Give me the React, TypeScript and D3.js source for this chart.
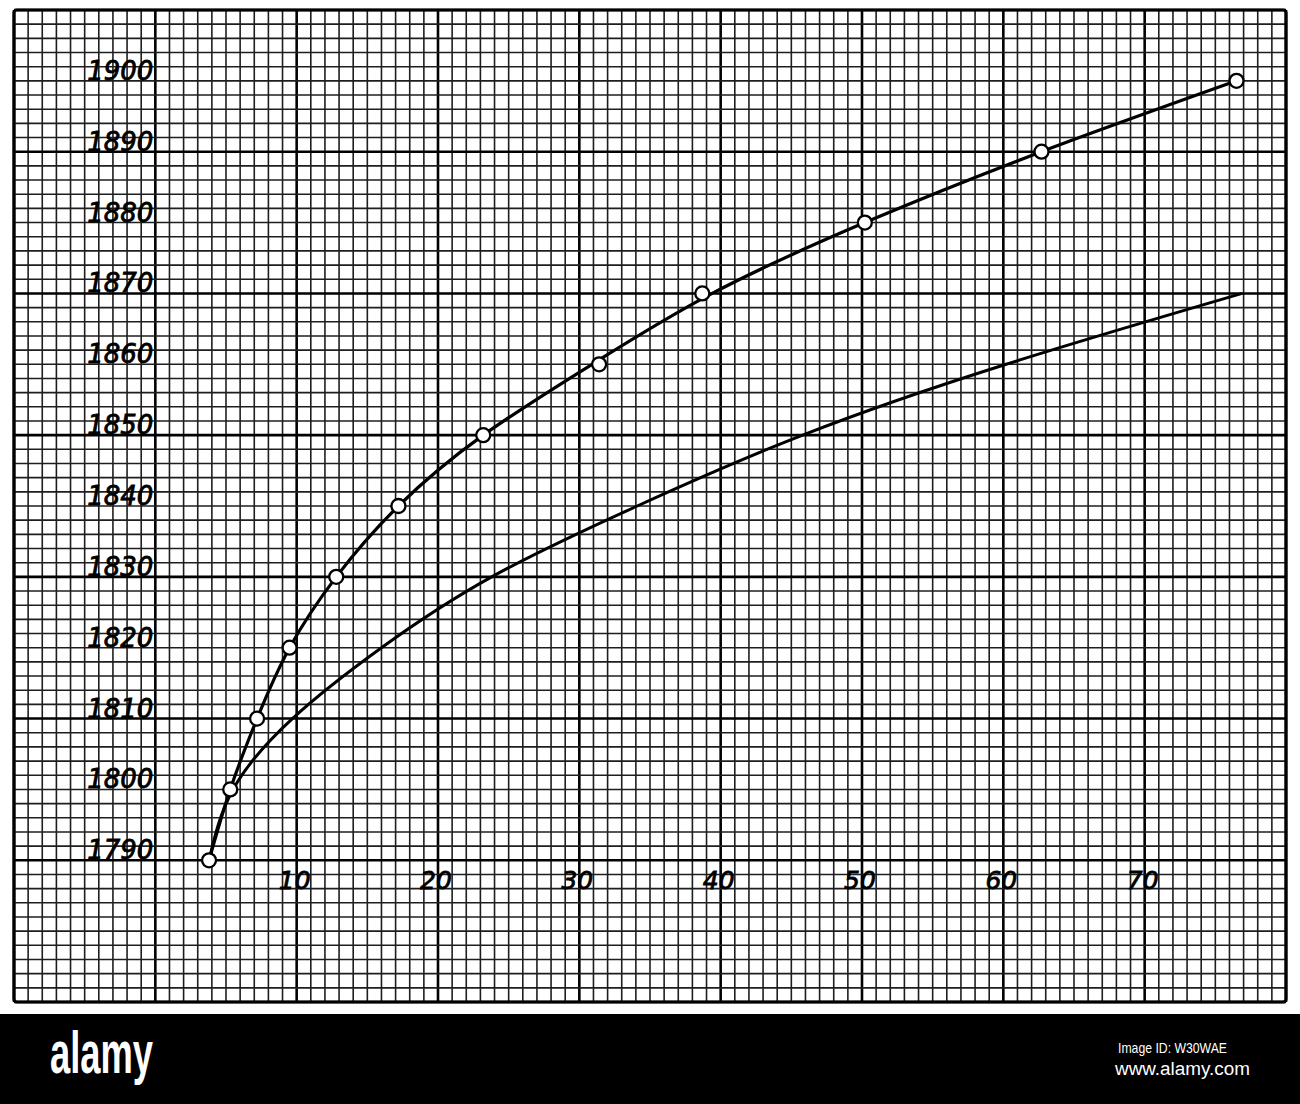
import React, { useEffect, useRef } from "react";
import * as d3 from "d3";

const W = 1300;
const H = 1104;

const censusYears = [1790, 1800, 1810, 1820, 1830, 1840, 1850, 1860, 1870, 1880, 1890, 1900];
const censusPop = [3.8, 5.3, 7.2, 9.5, 12.8, 17.2, 23.2, 31.4, 38.7, 50.2, 62.7, 76.5];

// the hand-drawn curve through those circles (it smooths past 1860/1870)
const upperLinePop = [3.8, 5.3, 7.2, 9.5, 12.8, 17.2, 23.2, 30.9, 39.4, 50.2, 62.7, 76.5];

// the second, lower curve (no markers)
const lowerYears = [1790, 1800, 1810, 1820, 1830, 1840, 1850, 1860, 1870];
const lowerPop = [3.8, 5.5, 9.7, 16.0, 23.8, 34.1, 45.8, 60.2, 76.9];

// tick labels
const yearLabels = [1790, 1800, 1810, 1820, 1830, 1840, 1850, 1860, 1870, 1880, 1890, 1900];
const popLabels = [10, 20, 30, 40, 50, 60, 70];

export default function App() {
  const ref = useRef<SVGSVGElement | null>(null);

  useEffect(() => {
    const svg = d3.select(ref.current);
    svg.selectAll("*").remove();

    const x = d3.scaleLinear().domain([-10, 80]).range([14, 1286]);
    const y = d3.scaleLinear().domain([1770, 1910]).range([1002, 10]);

    svg.append("rect").attr("width", W).attr("height", H).attr("fill", "#fff");

    // graph paper grid
    const grid = svg.append("g");
    const xs = d3.range(-10, 81, 1);
    const ys = d3.range(1770, 1911, 2);

    grid
      .selectAll("line.v")
      .data(xs)
      .join("line")
      .attr("x1", (d) => x(d))
      .attr("x2", (d) => x(d))
      .attr("y1", y(1910))
      .attr("y2", y(1770))
      .attr("stroke", (d) => (d % 10 === 0 ? "#000" : "#1e1e1e"))
      .attr("stroke-width", (d) => (d % 10 === 0 ? 2.6 : 1.6));

    grid
      .selectAll("line.h")
      .data(ys)
      .join("line")
      .attr("y1", (d) => y(d))
      .attr("y2", (d) => y(d))
      .attr("x1", x(-10))
      .attr("x2", x(80))
      .attr("stroke", (d) => ((d - 1770) % 20 === 0 ? "#000" : "#1e1e1e"))
      .attr("stroke-width", (d) => ((d - 1770) % 20 === 0 ? 2.6 : 1.6));

    // outer frame
    svg
      .append("rect")
      .attr("x", x(-10))
      .attr("y", y(1910))
      .attr("width", x(80) - x(-10))
      .attr("height", y(1770) - y(1910))
      .attr("fill", "none")
      .attr("stroke", "#000")
      .attr("stroke-width", 3.2)
      .attr("rx", 3);

    // y labels (years), sitting on their lines
    svg
      .append("g")
      .selectAll("text")
      .data(yearLabels)
      .join("text")
      .attr("x", x(0) - 2)
      .attr("y", (d) => y(d) - 1)
      .attr("text-anchor", "end")
      .attr("font-family", "DejaVu Sans")
      .attr("font-style", "italic")
      .attr("font-size", 26)
      .attr("fill", "#000")
      .attr("stroke", "#000")
      .attr("stroke-width", 0.8)
      .text((d) => d);

    // x labels (millions), just below the 1790 line
    svg
      .append("g")
      .selectAll("text")
      .data(popLabels)
      .join("text")
      .attr("x", (d) => x(d) - 2)
      .attr("y", y(1790) + 29)
      .attr("text-anchor", "middle")
      .attr("font-family", "DejaVu Sans")
      .attr("font-style", "italic")
      .attr("font-size", 25)
      .attr("fill", "#000")
      .attr("stroke", "#000")
      .attr("stroke-width", 0.8)
      .text((d) => d);

    const line = d3
      .line<[number, number]>()
      .x((d) => x(d[0]))
      .y((d) => y(d[1]))
      .curve(d3.curveNatural);

    const lower: [number, number][] = lowerPop.map((p, i) => [p, lowerYears[i]]);
    const upperLine: [number, number][] = upperLinePop.map((p, i) => [p, censusYears[i]]);
    const upper: [number, number][] = censusPop.map((p, i) => [p, censusYears[i]]);

    svg
      .append("path")
      .attr("d", line(lower))
      .attr("fill", "none")
      .attr("stroke", "#000")
      .attr("stroke-width", 3);

    svg
      .append("path")
      .attr("d", line(upperLine))
      .attr("fill", "none")
      .attr("stroke", "#000")
      .attr("stroke-width", 3.2);

    svg
      .append("g")
      .selectAll("circle")
      .data(upper)
      .join("circle")
      .attr("cx", (d) => x(d[0]))
      .attr("cy", (d) => y(d[1]))
      .attr("r", 7)
      .attr("fill", "#fff")
      .attr("stroke", "#000")
      .attr("stroke-width", 2.3);

    // stock-photo banner at the bottom
    svg.append("rect").attr("x", 0).attr("y", 1014).attr("width", W).attr("height", H - 1014).attr("fill", "#000");
    svg
      .append("text")
      .attr("x", 50)
      .attr("y", 1073)
      .attr("transform", "translate(0,1073) scale(1,1.2) translate(0,-1073)")
      .attr("font-family", "Liberation Sans Narrow, Liberation Sans, sans-serif")
      .attr("font-weight", "bold")
      .attr("font-size", 50)
      .attr("textLength", 103)
      .attr("lengthAdjust", "spacingAndGlyphs")
      .attr("fill", "#fff")
      .text("alamy");
    svg
      .append("text")
      .attr("x", 1118)
      .attr("y", 1053)
      .attr("font-family", "Liberation Sans Narrow, Liberation Sans, sans-serif")
      .attr("font-size", 15)
      .attr("textLength", 109)
      .attr("lengthAdjust", "spacingAndGlyphs")
      .attr("fill", "#fff")
      .text("Image ID: W30WAE");
    svg
      .append("text")
      .attr("x", 1115)
      .attr("y", 1075)
      .attr("font-family", "Liberation Sans Narrow, Liberation Sans, sans-serif")
      .attr("font-size", 18)
      .attr("textLength", 135)
      .attr("lengthAdjust", "spacingAndGlyphs")
      .attr("fill", "#fff")
      .text("www.alamy.com");
  }, []);

  return (
    <svg
      ref={ref}
      width={W}
      height={H}
      style={{ position: "absolute", left: 0, top: 0, display: "block" }}
    />
  );
}
